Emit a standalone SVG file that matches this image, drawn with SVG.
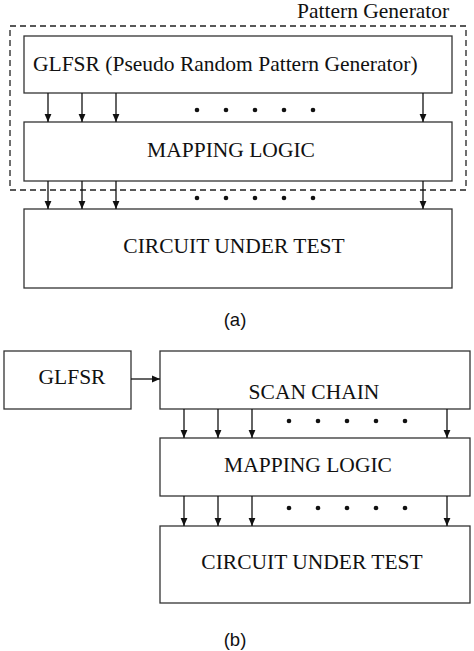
<svg xmlns="http://www.w3.org/2000/svg" width="474" height="651" viewBox="0 0 474 651">
<style>
.box{fill:#fff;stroke:#333;stroke-width:1.3}
.t{font-family:"Liberation Serif","Times New Roman",serif;font-size:21.5px;fill:#111}
.c{font-family:"Liberation Sans",Arial,sans-serif;font-size:18.5px;fill:#111}
.ln{stroke:#111;stroke-width:1.3;fill:none}
.dot{fill:#111}
</style>
<defs>
<marker id="ah" viewBox="0 0 8 8" refX="8" refY="4" markerWidth="8" markerHeight="8" markerUnits="userSpaceOnUse" orient="auto">
<path d="M0,0.6 L8,4 L0,7.4 Z" fill="#111"/>
</marker>
</defs>
<g id="pattern-generator">
<rect x="10" y="26" width="456" height="164" fill="none" stroke="#222" stroke-width="1.3" stroke-dasharray="6,4"/>
<text class="t" x="297" y="18" font-size="21">Pattern Generator</text>
</g>
<g id="glfsr-a">
<rect class="box" x="24" y="36" width="428" height="57"/>
<text class="t" x="33" y="71">GLFSR (Pseudo Random Pattern Generator)</text>
</g>
<g id="mapping-a">
<rect class="box" x="24" y="122" width="428" height="59"/>
<text class="t" x="231" y="157" text-anchor="middle">MAPPING LOGIC</text>
</g>
<g id="cut-a">
<rect class="box" x="24" y="209" width="428" height="79"/>
<text class="t" x="234" y="253" text-anchor="middle">CIRCUIT UNDER TEST</text>
</g>
<text class="c" x="235" y="326" text-anchor="middle">(a)</text>
<g id="glfsr-b">
<rect class="box" x="4" y="351" width="127" height="58"/>
<text class="t" x="72" y="384" text-anchor="middle">GLFSR</text>
</g>
<g id="scan-chain">
<rect class="box" x="160" y="351" width="310" height="58"/>
<text class="t" x="314" y="399" text-anchor="middle">SCAN CHAIN</text>
</g>
<g id="mapping-b">
<rect class="box" x="160" y="438" width="310" height="58"/>
<text class="t" x="308" y="472" text-anchor="middle">MAPPING LOGIC</text>
</g>
<g id="cut-b">
<rect class="box" x="160" y="526" width="310" height="77"/>
<text class="t" x="312" y="569" text-anchor="middle">CIRCUIT UNDER TEST</text>
</g>
<text class="c" x="235" y="646" text-anchor="middle">(b)</text>
<g id="connectors">
<line class="ln" x1="48" y1="93" x2="48" y2="122" marker-end="url(#ah)"/>
<line class="ln" x1="82" y1="93" x2="82" y2="122" marker-end="url(#ah)"/>
<line class="ln" x1="116" y1="93" x2="116" y2="122" marker-end="url(#ah)"/>
<line class="ln" x1="423" y1="93" x2="423" y2="122" marker-end="url(#ah)"/>
<line class="ln" x1="48" y1="181" x2="48" y2="209" marker-end="url(#ah)"/>
<line class="ln" x1="82" y1="181" x2="82" y2="209" marker-end="url(#ah)"/>
<line class="ln" x1="116" y1="181" x2="116" y2="209" marker-end="url(#ah)"/>
<line class="ln" x1="423" y1="181" x2="423" y2="209" marker-end="url(#ah)"/>
<line class="ln" x1="131" y1="379" x2="160" y2="379" marker-end="url(#ah)"/>
<line class="ln" x1="184" y1="409" x2="184" y2="438" marker-end="url(#ah)"/>
<line class="ln" x1="218" y1="409" x2="218" y2="438" marker-end="url(#ah)"/>
<line class="ln" x1="252" y1="409" x2="252" y2="438" marker-end="url(#ah)"/>
<line class="ln" x1="447" y1="409" x2="447" y2="438" marker-end="url(#ah)"/>
<line class="ln" x1="184" y1="496" x2="184" y2="526" marker-end="url(#ah)"/>
<line class="ln" x1="218" y1="496" x2="218" y2="526" marker-end="url(#ah)"/>
<line class="ln" x1="252" y1="496" x2="252" y2="526" marker-end="url(#ah)"/>
<line class="ln" x1="447" y1="496" x2="447" y2="526" marker-end="url(#ah)"/>
<g class="dot">
<circle cx="197" cy="110" r="2.3"/><circle cx="226" cy="110" r="2.3"/><circle cx="255" cy="110" r="2.3"/><circle cx="284" cy="110" r="2.3"/><circle cx="313" cy="110" r="2.3"/>
<circle cx="197" cy="198" r="2.3"/><circle cx="226" cy="198" r="2.3"/><circle cx="255" cy="198" r="2.3"/><circle cx="284" cy="198" r="2.3"/><circle cx="313" cy="198" r="2.3"/>
<circle cx="289" cy="421" r="2.3"/><circle cx="318" cy="421" r="2.3"/><circle cx="347" cy="421" r="2.3"/><circle cx="376" cy="421" r="2.3"/><circle cx="405" cy="421" r="2.3"/>
<circle cx="289" cy="508" r="2.3"/><circle cx="318" cy="508" r="2.3"/><circle cx="347" cy="508" r="2.3"/><circle cx="376" cy="508" r="2.3"/><circle cx="405" cy="508" r="2.3"/>
</g>
</g>
</svg>
